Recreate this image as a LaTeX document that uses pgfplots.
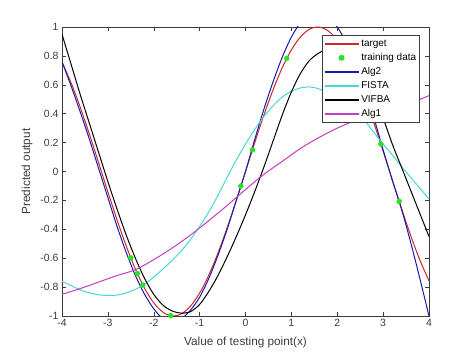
\documentclass[border=0pt]{standalone}
\usepackage{fontspec}
\setmainfont{Liberation Sans}
\usepackage{pgfplots}
\pgfplotsset{compat=1.18}
\definecolor{tred}{RGB}{205,40,40}
\definecolor{alg2}{RGB}{25,25,170}
\definecolor{fista}{RGB}{70,215,215}
\definecolor{alg1}{RGB}{195,60,195}
\definecolor{tgreen}{RGB}{40,225,40}
\definecolor{axgray}{RGB}{60,60,60}
\begin{document}
\begin{tikzpicture}
\path[use as bounding box] (-62bp,-39bp) rectangle (412bp,316bp);
\begin{axis}[
  at={(0,0)}, anchor=south west, scale only axis,
  width=367bp, height=289bp,
  xmin=-4, xmax=4, ymin=-1, ymax=1,
  xtick={-4,-3,-2,-1,0,1,2,3,4},
  xticklabels={-4,-3,-2,-1,0,1,2,3,4},
  ytick={-1,-0.8,-0.6,-0.4,-0.2,0,0.2,0.4,0.6,0.8,1},
  yticklabels={-1,-0.8,-0.6,-0.4,-0.2,0,0.2,0.4,0.6,0.8,1},
  tick align=inside, major tick length=4bp,
  axis line style={axgray}, tick style={axgray, line width=0.5pt},
  every tick label/.append style={font=\fontsize{10.5}{12}\selectfont, text=axgray},
  xlabel={Value of testing point(x)},
  ylabel={Predicted output},
  xlabel style={at={(axis description cs:0.5,-0.093)}, anchor=center, font=\fontsize{11.8}{13}\selectfont, text=axgray},
  ylabel style={at={(axis description cs:-0.095,0.5)}, anchor=center, font=\fontsize{11.8}{13}\selectfont, text=axgray},
  legend image code/.code={\draw[mark repeat=2,mark phase=2,#1,line width=1.5pt] plot coordinates {(0bp,0bp) (17bp,0bp) (34bp,0bp)};},
  legend style={at={(0.975,0.972)}, anchor=north east, draw=axgray,
    font=\fontsize{10}{12}\selectfont, inner sep=1.5bp,
    nodes={text height=7.5bp, text depth=2.5bp, inner sep=2bp}},
  legend cell align=left,
  every axis plot/.append style={line width=1pt},
]
% target
\addplot[tred, smooth] coordinates {
(-4.0,0.7568)(-3.8,0.6119)(-3.6,0.4425)(-3.4,0.2555)(-3.2,0.0584)(-3.0,-0.1411)
(-2.8,-0.3350)(-2.6,-0.5155)(-2.4,-0.6755)(-2.2,-0.8085)(-2.0,-0.9093)(-1.8,-0.9738)
(-1.6,-0.9996)(-1.4,-0.9854)(-1.2,-0.9320)(-1.0,-0.8415)(-0.8,-0.7174)(-0.6,-0.5646)
(-0.4,-0.3894)(-0.2,-0.1987)(0.0,0.0)(0.2,0.1987)(0.4,0.3894)(0.6,0.5646)(0.8,0.7174)
(1.0,0.8415)(1.2,0.9320)(1.4,0.9854)(1.6,0.9996)(1.8,0.9738)(2.0,0.9093)(2.2,0.8085)
(2.4,0.6755)(2.6,0.5155)(2.8,0.3350)(3.0,0.1411)(3.2,-0.0584)(3.4,-0.2555)(3.6,-0.4425)
(3.8,-0.6119)(4.0,-0.7568)};
\addlegendentry{target}
% training data
\addplot[only marks, mark=*, mark size=2.2bp, color=tgreen] coordinates {
(-2.5,-0.598)(-2.357,-0.706)(-2.24,-0.785)(-1.63,-0.998)(-0.1,-0.0998)
(0.15,0.149)(0.9,0.783)(2.95,0.190)(3.35,-0.207)};
\addlegendentry{training data}
% Alg2
\addplot[alg2, smooth] coordinates {
(-4.0,0.76)(-3.8,0.59)(-3.6,0.41)(-3.4,0.22)(-3.2,0.02)(-3.0,-0.18)(-2.8,-0.38)
(-2.6,-0.56)(-2.4,-0.72)(-2.2,-0.85)(-2.0,-0.95)(-1.8,-1.02)(-1.6,-1.04)(-1.4,-1.02)
(-1.2,-0.96)(-1.0,-0.87)(-0.8,-0.74)(-0.6,-0.58)(-0.4,-0.40)(-0.2,-0.20)(0.0,0.0)
(0.2,0.22)(0.4,0.43)(0.6,0.62)(0.8,0.79)(1.0,0.93)(1.2,1.03)(1.4,1.08)(1.6,1.10)
(1.8,1.07)(2.0,1.00)(2.2,0.89)(2.4,0.74)(2.6,0.57)(2.8,0.37)(3.0,0.15)(3.2,-0.06)
(3.4,-0.26)(3.6,-0.49)(3.8,-0.74)(4.0,-1.0)};
\addlegendentry{Alg2}
% FISTA
\addplot[fista, smooth] coordinates {
(-4.0,-0.76)(-3.8,-0.79)(-3.6,-0.82)(-3.4,-0.84)(-3.2,-0.853)(-3.0,-0.858)(-2.8,-0.855)
(-2.6,-0.84)(-2.4,-0.815)(-2.2,-0.78)(-2.0,-0.73)(-1.8,-0.675)(-1.6,-0.615)(-1.4,-0.55)
(-1.2,-0.47)(-1.0,-0.38)(-0.8,-0.28)(-0.6,-0.165)(-0.4,-0.04)(-0.2,0.08)(0.0,0.19)
(0.2,0.29)(0.4,0.38)(0.6,0.455)(0.8,0.515)(1.0,0.555)(1.2,0.578)(1.4,0.585)(1.6,0.572)
(1.8,0.54)(2.0,0.50)(2.2,0.46)(2.4,0.41)(2.6,0.35)(2.8,0.27)(3.0,0.19)(3.2,0.115)
(3.4,0.035)(3.6,-0.04)(3.8,-0.115)(4.0,-0.19)};
\addlegendentry{FISTA}
% VIFBA
\addplot[black, smooth] coordinates {
(-4.0,0.95)(-3.8,0.74)(-3.6,0.53)(-3.4,0.33)(-3.2,0.13)(-3.0,-0.07)(-2.8,-0.26)
(-2.6,-0.44)(-2.4,-0.60)(-2.2,-0.74)(-2.0,-0.85)(-1.8,-0.925)(-1.6,-0.965)(-1.4,-0.98)
(-1.2,-0.97)(-1.0,-0.92)(-0.8,-0.83)(-0.6,-0.72)(-0.4,-0.59)(-0.2,-0.45)(0.0,-0.30)
(0.2,-0.14)(0.4,0.03)(0.6,0.21)(0.8,0.39)(1.0,0.55)(1.2,0.68)(1.4,0.77)(1.6,0.82)
(1.8,0.85)(2.0,0.86)(2.2,0.84)(2.4,0.78)(2.6,0.68)(2.8,0.54)(3.0,0.37)(3.2,0.19)
(3.4,0.03)(3.6,-0.13)(3.8,-0.29)(4.0,-0.45)};
\addlegendentry{VIFBA}
% Alg1
\addplot[alg1, smooth] coordinates {
(-4.0,-0.850)(-3.6,-0.81)(-3.2,-0.765)(-2.8,-0.72)(-2.4,-0.68)(-2.0,-0.61)(-1.6,-0.53)
(-1.2,-0.44)(-0.8,-0.34)(-0.4,-0.235)(0.0,-0.125)(0.4,-0.02)(0.8,0.07)(1.2,0.16)
(1.6,0.235)(2.0,0.30)(2.4,0.355)(2.8,0.40)(3.2,0.44)(3.6,0.475)(4.0,0.525)};
\addlegendentry{Alg1}
\end{axis}
\end{tikzpicture}
\end{document}
